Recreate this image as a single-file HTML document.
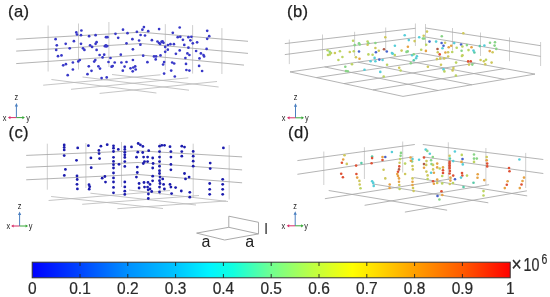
<!DOCTYPE html>
<html><head><meta charset="utf-8"><style>
html,body{margin:0;padding:0;background:#fff;}
body{width:550px;height:297px;overflow:hidden;}
svg{display:block;}
.pl{font-family:"Liberation Sans",Arial,sans-serif;font-size:16.6px;fill:#1e1e1e;letter-spacing:0.35px;stroke:#1e1e1e;stroke-width:0.25px;}
.tl{font-family:"Liberation Sans",Arial,sans-serif;font-size:9.5px;fill:#222;}
.sk{font-family:"Liberation Sans",Arial,sans-serif;font-size:16px;fill:#222;}
.cl{font-family:"Liberation Sans",Arial,sans-serif;font-size:15.5px;fill:#2a2a2a;stroke:#2a2a2a;stroke-width:0.2px;}
.cs{font-family:"Liberation Sans",Arial,sans-serif;font-size:11px;fill:#2a2a2a;stroke:#2a2a2a;stroke-width:0.15px;}
</style></head><body>
<svg width="550" height="297" viewBox="0 0 550 297">
<rect width="550" height="297" fill="#fff"/>
<defs><linearGradient id="cb" x1="0" x2="1" y1="0" y2="0"><stop offset="0" stop-color="#0000ff"/><stop offset="0.1" stop-color="#0044ff"/><stop offset="0.2" stop-color="#0090ff"/><stop offset="0.3" stop-color="#00c4ff"/><stop offset="0.37" stop-color="#00f4ff"/><stop offset="0.42" stop-color="#10ffe0"/><stop offset="0.5" stop-color="#70ff90"/><stop offset="0.58" stop-color="#b8ff48"/><stop offset="0.62" stop-color="#d8ff28"/><stop offset="0.67" stop-color="#ffff00"/><stop offset="0.72" stop-color="#ffdc00"/><stop offset="0.8" stop-color="#ffa000"/><stop offset="0.9" stop-color="#ff5a00"/><stop offset="1.0" stop-color="#ff0000"/></linearGradient></defs>
<g fill="none" stroke="#c6c6c6" stroke-width="0.85">
<polyline points="48.1,25.5 48.1,71.5"/>
<polyline points="78.5,23.5 78.5,69.5"/>
<polyline points="108.9,22.0 108.9,67.0"/>
<polyline points="165.3,24.2 165.3,70.0"/>
<polyline points="192.6,25.1 192.6,73.6"/>
<polyline points="221.9,28.1 221.9,74.0"/>
<polyline points="289.3,39.5 289.3,64.1"/>
<polyline points="322.5,34.5 322.5,59.5"/>
<polyline points="354.6,31.8 354.6,56.0"/>
<polyline points="385.7,27.5 385.7,51.4"/>
<polyline points="415.4,23.5 415.4,46.0"/>
<polyline points="425.5,24.0 425.5,46.4"/>
<polyline points="452.5,28.0 452.5,50.5"/>
<polyline points="480.5,32.5 480.5,56.0"/>
<polyline points="509.5,37.4 509.5,61.2"/>
<polyline points="540.6,42.0 540.6,66.0"/>
<polyline points="47.3,143.7 47.3,189.7"/>
<polyline points="85.9,143.0 85.9,188.0"/>
<polyline points="121.5,142.0 121.5,187.0"/>
<polyline points="160.0,143.0 160.0,195.0"/>
<polyline points="193.2,143.7 193.2,198.0"/>
<polyline points="229.2,145.0 229.2,199.5"/>
<polyline points="323.8,151.5 323.8,185.0"/>
<polyline points="364.4,147.2 364.4,179.0"/>
<polyline points="402.7,141.5 402.7,172.5"/>
<polyline points="448.3,142.3 448.3,180.0"/>
<polyline points="485.9,148.0 485.9,185.0"/>
<polyline points="525.7,152.9 525.7,188.0"/>
</g>
<g fill="none" stroke="#a6a6a6" stroke-width="0.85">
<polyline points="16.2,39.2 141.0,32.2 248.0,41.3"/>
<polyline points="16.2,51.1 141.0,43.5 248.0,53.4"/>
<polyline points="16.2,63.6 141.0,55.0 244.0,65.1"/>
<polyline points="284.8,43.6 415.4,28.3"/>
<polyline points="284.8,54.6 415.4,37.5"/>
<polyline points="425.5,28.0 540.7,45.7"/>
<polyline points="425.5,37.0 540.7,56.4"/>
<polyline points="26.2,155.4 138.0,150.8 242.1,156.9"/>
<polyline points="26.2,167.3 138.0,162.5 242.1,169.9"/>
<polyline points="26.2,179.8 138.0,174.5 242.1,182.8"/>
<polyline points="297.4,160.6 414.8,144.5"/>
<polyline points="297.4,174.3 413.4,156.8"/>
<polyline points="422.8,144.5 543.3,159.5"/>
<polyline points="422.8,156.8 543.3,173.5"/>
<polyline points="290.0,71.9 403.0,96.4"/>
<polyline points="324.6,66.9 438.2,90.5"/>
<polyline points="357.8,62.2 471.9,84.8"/>
<polyline points="389.7,57.6 504.1,79.3"/>
<polyline points="420.4,53.2 535.0,74.1"/>
<polyline points="290.0,71.9 420.4,53.2"/>
<polyline points="316.4,77.6 447.4,58.1"/>
<polyline points="344.0,83.6 475.4,63.2"/>
<polyline points="372.9,89.9 504.6,68.6"/>
<polyline points="403.0,96.4 535.0,74.1"/>
<polyline points="328.7,190.5 447.1,210.2"/>
<polyline points="372.4,183.9 488.3,202.8"/>
<polyline points="413.7,177.6 527.2,195.9"/>
<polyline points="324.9,198.7 451.7,178.7"/>
<polyline points="364.6,205.3 489.1,184.7"/>
<polyline points="404.9,212.1 526.9,190.8"/>
</g>
<g fill="none" stroke="#b8b8b8" stroke-width="0.8">
<polyline points="43.2,85.2 160.5,74.8"/>
<polyline points="71.0,89.3 188.3,77.8"/>
<polyline points="99.6,93.4 217.0,81.5"/>
<polyline points="51.4,79.5 156.4,93.0"/>
<polyline points="82.5,77.0 189.0,90.2"/>
<polyline points="112.0,74.5 218.6,87.0"/>
<polyline points="48.6,200.5 170.0,190.5"/>
<polyline points="82.2,204.3 199.0,195.5"/>
<polyline points="117.4,208.7 226.0,201.0"/>
<polyline points="51.1,196.5 163.0,208.5"/>
<polyline points="90.4,193.2 196.0,205.0"/>
<polyline points="129.0,190.0 228.0,201.5"/>
</g>
<g fill="#3838c8">
<circle cx="174.8" cy="76.5" r="1.35"/>
<circle cx="104.9" cy="46.2" r="1.35"/>
<circle cx="106.3" cy="46.4" r="1.35"/>
<circle cx="107.3" cy="46.0" r="1.35"/>
<circle cx="105.9" cy="45.3" r="1.35"/>
<circle cx="106.0" cy="37.2" r="1.35"/>
<circle cx="107.4" cy="37.2" r="1.35"/>
<circle cx="76.3" cy="32.4" r="1.35"/>
<circle cx="77.0" cy="34.5" r="1.35"/>
<circle cx="94.2" cy="61.6" r="1.35"/>
<circle cx="95.3" cy="60.1" r="1.35"/>
<circle cx="78.3" cy="61.4" r="1.35"/>
<circle cx="79.8" cy="60.0" r="1.35"/>
<circle cx="160.1" cy="44.0" r="1.35"/>
<circle cx="161.5" cy="41.9" r="1.35"/>
<circle cx="163.5" cy="42.8" r="1.35"/>
<circle cx="159.0" cy="43.0" r="1.35"/>
<circle cx="55.6" cy="39.2" r="1.35"/>
<circle cx="56.8" cy="45.3" r="1.35"/>
<circle cx="56.2" cy="49.9" r="1.35"/>
<circle cx="58.0" cy="56.2" r="1.35"/>
<circle cx="61.5" cy="55.4" r="1.35"/>
<circle cx="63.2" cy="65.3" r="1.35"/>
<circle cx="65.9" cy="64.2" r="1.35"/>
<circle cx="67.7" cy="75.2" r="1.35"/>
<circle cx="65.7" cy="43.8" r="1.35"/>
<circle cx="69.7" cy="48.3" r="1.35"/>
<circle cx="73.9" cy="41.2" r="1.35"/>
<circle cx="72.9" cy="62.5" r="1.35"/>
<circle cx="72.9" cy="69.5" r="1.35"/>
<circle cx="81.4" cy="30.5" r="1.35"/>
<circle cx="81.0" cy="35.2" r="1.35"/>
<circle cx="81.0" cy="43.8" r="1.35"/>
<circle cx="83.0" cy="48.3" r="1.35"/>
<circle cx="84.4" cy="49.9" r="1.35"/>
<circle cx="89.1" cy="36.2" r="1.35"/>
<circle cx="90.1" cy="45.3" r="1.35"/>
<circle cx="92.1" cy="46.9" r="1.35"/>
<circle cx="95.6" cy="43.8" r="1.35"/>
<circle cx="96.6" cy="42.2" r="1.35"/>
<circle cx="96.6" cy="49.9" r="1.35"/>
<circle cx="95.6" cy="35.2" r="1.35"/>
<circle cx="99.6" cy="55.0" r="1.35"/>
<circle cx="102.6" cy="57.4" r="1.35"/>
<circle cx="104.2" cy="54.7" r="1.35"/>
<circle cx="88.8" cy="66.3" r="1.35"/>
<circle cx="91.5" cy="70.8" r="1.35"/>
<circle cx="98.4" cy="66.3" r="1.35"/>
<circle cx="100.0" cy="68.6" r="1.35"/>
<circle cx="87.5" cy="74.2" r="1.35"/>
<circle cx="101.6" cy="78.1" r="1.35"/>
<circle cx="106.7" cy="77.4" r="1.35"/>
<circle cx="110.5" cy="58.0" r="1.35"/>
<circle cx="108.5" cy="62.0" r="1.35"/>
<circle cx="111.6" cy="66.7" r="1.35"/>
<circle cx="112.7" cy="66.1" r="1.35"/>
<circle cx="114.7" cy="62.5" r="1.35"/>
<circle cx="115.5" cy="33.8" r="1.35"/>
<circle cx="118.2" cy="37.8" r="1.35"/>
<circle cx="123.0" cy="29.7" r="1.35"/>
<circle cx="127.5" cy="33.2" r="1.35"/>
<circle cx="126.5" cy="43.3" r="1.35"/>
<circle cx="132.4" cy="39.2" r="1.35"/>
<circle cx="132.9" cy="49.3" r="1.35"/>
<circle cx="120.8" cy="54.7" r="1.35"/>
<circle cx="121.4" cy="62.5" r="1.35"/>
<circle cx="126.5" cy="62.0" r="1.35"/>
<circle cx="122.8" cy="70.7" r="1.35"/>
<circle cx="124.6" cy="66.6" r="1.35"/>
<circle cx="130.5" cy="68.3" r="1.35"/>
<circle cx="133.3" cy="67.5" r="1.35"/>
<circle cx="132.7" cy="71.3" r="1.35"/>
<circle cx="135.2" cy="66.4" r="1.35"/>
<circle cx="135.7" cy="69.5" r="1.35"/>
<circle cx="136.9" cy="31.8" r="1.35"/>
<circle cx="139.1" cy="40.5" r="1.35"/>
<circle cx="140.6" cy="35.0" r="1.35"/>
<circle cx="140.4" cy="44.7" r="1.35"/>
<circle cx="142.4" cy="29.7" r="1.35"/>
<circle cx="143.9" cy="27.1" r="1.35"/>
<circle cx="145.0" cy="35.5" r="1.35"/>
<circle cx="143.2" cy="55.7" r="1.35"/>
<circle cx="147.4" cy="62.2" r="1.35"/>
<circle cx="148.2" cy="31.2" r="1.35"/>
<circle cx="151.9" cy="40.2" r="1.35"/>
<circle cx="157.5" cy="41.5" r="1.35"/>
<circle cx="159.1" cy="29.1" r="1.35"/>
<circle cx="167.9" cy="45.0" r="1.35"/>
<circle cx="170.4" cy="44.2" r="1.35"/>
<circle cx="173.9" cy="44.2" r="1.35"/>
<circle cx="172.8" cy="32.8" r="1.35"/>
<circle cx="179.7" cy="27.5" r="1.35"/>
<circle cx="207.2" cy="30.8" r="1.35"/>
<circle cx="209.2" cy="36.2" r="1.35"/>
<circle cx="207.2" cy="38.8" r="1.35"/>
<circle cx="177.7" cy="37.2" r="1.35"/>
<circle cx="180.3" cy="36.8" r="1.35"/>
<circle cx="188.4" cy="37.2" r="1.35"/>
<circle cx="191.4" cy="36.8" r="1.35"/>
<circle cx="190.4" cy="40.3" r="1.35"/>
<circle cx="182.9" cy="39.8" r="1.35"/>
<circle cx="197.1" cy="42.3" r="1.35"/>
<circle cx="192.8" cy="43.3" r="1.35"/>
<circle cx="162.5" cy="41.3" r="1.35"/>
<circle cx="165.2" cy="46.9" r="1.35"/>
<circle cx="184.3" cy="44.9" r="1.35"/>
<circle cx="188.4" cy="47.7" r="1.35"/>
<circle cx="167.8" cy="49.7" r="1.35"/>
<circle cx="165.2" cy="51.8" r="1.35"/>
<circle cx="179.7" cy="50.4" r="1.35"/>
<circle cx="175.9" cy="53.8" r="1.35"/>
<circle cx="187.4" cy="53.4" r="1.35"/>
<circle cx="189.4" cy="55.0" r="1.35"/>
<circle cx="196.1" cy="51.0" r="1.35"/>
<circle cx="200.9" cy="53.4" r="1.35"/>
<circle cx="203.5" cy="55.0" r="1.35"/>
<circle cx="204.1" cy="56.4" r="1.35"/>
<circle cx="206.6" cy="48.9" r="1.35"/>
<circle cx="199.5" cy="58.4" r="1.35"/>
<circle cx="185.4" cy="58.0" r="1.35"/>
<circle cx="160.5" cy="55.4" r="1.35"/>
<circle cx="156.1" cy="56.4" r="1.35"/>
<circle cx="154.0" cy="56.4" r="1.35"/>
<circle cx="155.7" cy="59.4" r="1.35"/>
<circle cx="164.1" cy="62.1" r="1.35"/>
<circle cx="163.1" cy="64.5" r="1.35"/>
<circle cx="172.2" cy="62.5" r="1.35"/>
<circle cx="174.2" cy="63.5" r="1.35"/>
<circle cx="186.0" cy="63.9" r="1.35"/>
<circle cx="199.1" cy="65.9" r="1.35"/>
<circle cx="186.4" cy="70.0" r="1.35"/>
<circle cx="189.4" cy="70.6" r="1.35"/>
<circle cx="202.1" cy="71.0" r="1.35"/>
<circle cx="171.2" cy="70.6" r="1.35"/>
<circle cx="164.1" cy="73.6" r="1.35"/>
<circle cx="132.9" cy="60.0" r="1.35"/>
</g>
<g fill="#1c1cae">
<circle cx="64.2" cy="144.9" r="1.4"/>
<circle cx="64.2" cy="147.4" r="1.4"/>
<circle cx="64.2" cy="149.9" r="1.4"/>
<circle cx="64.2" cy="155.6" r="1.4"/>
<circle cx="77.7" cy="147.9" r="1.4"/>
<circle cx="76.5" cy="160.3" r="1.4"/>
<circle cx="65.4" cy="169.4" r="1.4"/>
<circle cx="64.3" cy="175.4" r="1.4"/>
<circle cx="77.0" cy="176.0" r="1.4"/>
<circle cx="77.2" cy="179.5" r="1.4"/>
<circle cx="77.0" cy="184.3" r="1.4"/>
<circle cx="77.4" cy="188.9" r="1.4"/>
<circle cx="88.4" cy="145.7" r="1.4"/>
<circle cx="90.9" cy="157.9" r="1.4"/>
<circle cx="91.2" cy="167.7" r="1.4"/>
<circle cx="89.0" cy="184.7" r="1.4"/>
<circle cx="89.7" cy="186.7" r="1.4"/>
<circle cx="89.2" cy="189.2" r="1.4"/>
<circle cx="100.9" cy="146.2" r="1.4"/>
<circle cx="98.9" cy="150.4" r="1.4"/>
<circle cx="99.1" cy="153.6" r="1.4"/>
<circle cx="99.6" cy="158.6" r="1.4"/>
<circle cx="102.2" cy="178.2" r="1.4"/>
<circle cx="104.9" cy="176.5" r="1.4"/>
<circle cx="105.5" cy="182.1" r="1.4"/>
<circle cx="107.2" cy="144.7" r="1.4"/>
<circle cx="113.5" cy="145.8" r="1.4"/>
<circle cx="113.5" cy="148.2" r="1.4"/>
<circle cx="113.5" cy="151.5" r="1.4"/>
<circle cx="113.5" cy="157.3" r="1.4"/>
<circle cx="113.5" cy="161.4" r="1.4"/>
<circle cx="113.5" cy="164.7" r="1.4"/>
<circle cx="113.5" cy="168.0" r="1.4"/>
<circle cx="113.5" cy="173.0" r="1.4"/>
<circle cx="113.5" cy="177.9" r="1.4"/>
<circle cx="113.5" cy="182.0" r="1.4"/>
<circle cx="113.5" cy="187.4" r="1.4"/>
<circle cx="113.5" cy="192.8" r="1.4"/>
<circle cx="118.3" cy="149.4" r="1.4"/>
<circle cx="119.0" cy="164.3" r="1.4"/>
<circle cx="124.8" cy="146.9" r="1.4"/>
<circle cx="124.8" cy="149.4" r="1.4"/>
<circle cx="124.8" cy="152.3" r="1.4"/>
<circle cx="124.8" cy="154.8" r="1.4"/>
<circle cx="124.8" cy="157.4" r="1.4"/>
<circle cx="124.8" cy="161.6" r="1.4"/>
<circle cx="124.8" cy="166.4" r="1.4"/>
<circle cx="124.8" cy="182.0" r="1.4"/>
<circle cx="124.8" cy="186.9" r="1.4"/>
<circle cx="124.8" cy="191.2" r="1.4"/>
<circle cx="124.8" cy="194.4" r="1.4"/>
<circle cx="131.5" cy="146.9" r="1.4"/>
<circle cx="136.5" cy="157.2" r="1.4"/>
<circle cx="138.2" cy="143.5" r="1.4"/>
<circle cx="140.4" cy="144.9" r="1.4"/>
<circle cx="142.9" cy="146.4" r="1.4"/>
<circle cx="137.8" cy="152.2" r="1.4"/>
<circle cx="137.3" cy="167.1" r="1.4"/>
<circle cx="137.3" cy="172.5" r="1.4"/>
<circle cx="136.4" cy="177.1" r="1.4"/>
<circle cx="142.7" cy="152.5" r="1.4"/>
<circle cx="143.6" cy="157.1" r="1.4"/>
<circle cx="144.5" cy="161.6" r="1.4"/>
<circle cx="143.3" cy="163.5" r="1.4"/>
<circle cx="148.7" cy="150.7" r="1.4"/>
<circle cx="147.6" cy="157.1" r="1.4"/>
<circle cx="147.6" cy="161.6" r="1.4"/>
<circle cx="152.7" cy="158.0" r="1.4"/>
<circle cx="153.1" cy="163.5" r="1.4"/>
<circle cx="152.7" cy="168.0" r="1.4"/>
<circle cx="152.7" cy="176.2" r="1.4"/>
<circle cx="152.6" cy="180.8" r="1.4"/>
<circle cx="139.1" cy="183.5" r="1.4"/>
<circle cx="144.0" cy="182.5" r="1.4"/>
<circle cx="144.5" cy="187.1" r="1.4"/>
<circle cx="147.6" cy="187.1" r="1.4"/>
<circle cx="148.2" cy="189.8" r="1.4"/>
<circle cx="150.0" cy="188.9" r="1.4"/>
<circle cx="139.1" cy="188.0" r="1.4"/>
<circle cx="159.5" cy="146.2" r="1.4"/>
<circle cx="161.8" cy="145.3" r="1.4"/>
<circle cx="164.5" cy="145.3" r="1.4"/>
<circle cx="159.5" cy="151.6" r="1.4"/>
<circle cx="159.5" cy="157.1" r="1.4"/>
<circle cx="159.5" cy="161.6" r="1.4"/>
<circle cx="159.5" cy="166.2" r="1.4"/>
<circle cx="159.5" cy="170.7" r="1.4"/>
<circle cx="159.5" cy="173.5" r="1.4"/>
<circle cx="160.0" cy="177.1" r="1.4"/>
<circle cx="159.5" cy="180.7" r="1.4"/>
<circle cx="160.0" cy="183.5" r="1.4"/>
<circle cx="159.5" cy="187.1" r="1.4"/>
<circle cx="159.5" cy="192.0" r="1.4"/>
<circle cx="162.7" cy="178.9" r="1.4"/>
<circle cx="163.6" cy="184.4" r="1.4"/>
<circle cx="170.0" cy="146.7" r="1.4"/>
<circle cx="170.9" cy="151.6" r="1.4"/>
<circle cx="170.9" cy="157.1" r="1.4"/>
<circle cx="170.9" cy="164.4" r="1.4"/>
<circle cx="170.9" cy="169.8" r="1.4"/>
<circle cx="170.0" cy="184.4" r="1.4"/>
<circle cx="170.9" cy="187.1" r="1.4"/>
<circle cx="171.6" cy="193.6" r="1.4"/>
<circle cx="181.8" cy="146.2" r="1.4"/>
<circle cx="184.5" cy="147.1" r="1.4"/>
<circle cx="181.8" cy="151.6" r="1.4"/>
<circle cx="181.8" cy="156.2" r="1.4"/>
<circle cx="184.5" cy="173.5" r="1.4"/>
<circle cx="189.1" cy="177.1" r="1.4"/>
<circle cx="185.5" cy="178.9" r="1.4"/>
<circle cx="181.3" cy="191.0" r="1.4"/>
<circle cx="193.2" cy="151.4" r="1.4"/>
<circle cx="193.2" cy="156.2" r="1.4"/>
<circle cx="193.2" cy="161.2" r="1.4"/>
<circle cx="193.2" cy="166.2" r="1.4"/>
<circle cx="189.8" cy="192.3" r="1.4"/>
<circle cx="189.8" cy="197.2" r="1.4"/>
<circle cx="223.4" cy="147.9" r="1.4"/>
<circle cx="210.2" cy="163.1" r="1.4"/>
<circle cx="210.2" cy="168.6" r="1.4"/>
<circle cx="209.7" cy="183.5" r="1.4"/>
<circle cx="209.7" cy="189.3" r="1.4"/>
<circle cx="209.7" cy="194.3" r="1.4"/>
<circle cx="222.7" cy="179.3" r="1.4"/>
<circle cx="222.7" cy="184.3" r="1.4"/>
<circle cx="222.7" cy="189.3" r="1.4"/>
<circle cx="222.7" cy="194.3" r="1.4"/>
<circle cx="148.0" cy="182.4" r="1.4"/>
<circle cx="150.0" cy="184.4" r="1.4"/>
<circle cx="151.7" cy="191.5" r="1.4"/>
<circle cx="148.4" cy="194.0" r="1.4"/>
<circle cx="148.3" cy="198.5" r="1.4"/>
<circle cx="164.4" cy="189.0" r="1.4"/>
<circle cx="175.6" cy="187.6" r="1.4"/>
</g>
<g>
<circle cx="327.6" cy="50.3" r="1.3" fill="#bcd462"/>
<circle cx="329.7" cy="51.7" r="1.3" fill="#88d486"/>
<circle cx="331.0" cy="53.0" r="1.3" fill="#bcd462"/>
<circle cx="328.0" cy="55.0" r="1.3" fill="#bcd462"/>
<circle cx="334.9" cy="53.0" r="1.3" fill="#cec85c"/>
<circle cx="339.9" cy="51.2" r="1.3" fill="#bcd462"/>
<circle cx="342.4" cy="57.0" r="1.3" fill="#bcd462"/>
<circle cx="338.4" cy="60.0" r="1.3" fill="#bcd462"/>
<circle cx="349.8" cy="52.0" r="1.3" fill="#cec85c"/>
<circle cx="353.8" cy="51.2" r="1.3" fill="#bcd462"/>
<circle cx="353.1" cy="40.7" r="1.3" fill="#bcd462"/>
<circle cx="354.7" cy="45.1" r="1.3" fill="#88d486"/>
<circle cx="359.0" cy="43.2" r="1.3" fill="#88d486"/>
<circle cx="359.7" cy="44.5" r="1.3" fill="#88d486"/>
<circle cx="359.0" cy="51.5" r="1.3" fill="#4862cc"/>
<circle cx="355.9" cy="57.3" r="1.3" fill="#cec85c"/>
<circle cx="359.5" cy="58.8" r="1.3" fill="#e6a244"/>
<circle cx="367.6" cy="41.5" r="1.3" fill="#bcd462"/>
<circle cx="368.4" cy="43.2" r="1.3" fill="#88d486"/>
<circle cx="367.6" cy="44.8" r="1.3" fill="#cec85c"/>
<circle cx="375.4" cy="43.0" r="1.3" fill="#88d486"/>
<circle cx="375.4" cy="48.0" r="1.3" fill="#cec85c"/>
<circle cx="375.9" cy="52.2" r="1.3" fill="#4862cc"/>
<circle cx="378.8" cy="50.8" r="1.3" fill="#cec85c"/>
<circle cx="384.0" cy="49.3" r="1.3" fill="#b05a48"/>
<circle cx="368.4" cy="54.4" r="1.3" fill="#bcd462"/>
<circle cx="372.6" cy="54.7" r="1.3" fill="#bcd462"/>
<circle cx="370.6" cy="61.3" r="1.3" fill="#56cdd8"/>
<circle cx="375.4" cy="61.3" r="1.3" fill="#56cdd8"/>
<circle cx="379.3" cy="59.6" r="1.3" fill="#4862cc"/>
<circle cx="382.6" cy="60.0" r="1.3" fill="#56cdd8"/>
<circle cx="385.3" cy="37.3" r="1.3" fill="#cec85c"/>
<circle cx="345.3" cy="66.7" r="1.3" fill="#88d486"/>
<circle cx="352.0" cy="64.2" r="1.3" fill="#bcd462"/>
<circle cx="347.8" cy="71.2" r="1.3" fill="#88d486"/>
<circle cx="364.5" cy="69.8" r="1.3" fill="#56cdd8"/>
<circle cx="380.3" cy="71.9" r="1.3" fill="#56cdd8"/>
<circle cx="404.7" cy="35.2" r="1.3" fill="#56cdd8"/>
<circle cx="408.8" cy="40.1" r="1.3" fill="#56cdd8"/>
<circle cx="394.9" cy="45.7" r="1.3" fill="#56cdd8"/>
<circle cx="407.9" cy="46.8" r="1.3" fill="#e6a244"/>
<circle cx="414.6" cy="41.1" r="1.3" fill="#cec85c"/>
<circle cx="419.2" cy="37.3" r="1.3" fill="#56cdd8"/>
<circle cx="422.9" cy="38.5" r="1.3" fill="#88d486"/>
<circle cx="424.2" cy="38.5" r="1.3" fill="#88d486"/>
<circle cx="423.7" cy="35.7" r="1.3" fill="#cec85c"/>
<circle cx="427.0" cy="31.6" r="1.3" fill="#cec85c"/>
<circle cx="426.2" cy="44.8" r="1.3" fill="#bcd462"/>
<circle cx="429.5" cy="41.6" r="1.3" fill="#4862cc"/>
<circle cx="436.1" cy="41.6" r="1.3" fill="#56cdd8"/>
<circle cx="441.8" cy="36.2" r="1.3" fill="#88d486"/>
<circle cx="441.6" cy="43.0" r="1.3" fill="#4862cc"/>
<circle cx="443.5" cy="45.7" r="1.3" fill="#4862cc"/>
<circle cx="442.5" cy="48.3" r="1.3" fill="#56cdd8"/>
<circle cx="445.1" cy="42.8" r="1.3" fill="#cec85c"/>
<circle cx="437.5" cy="49.0" r="1.3" fill="#b05a48"/>
<circle cx="437.8" cy="52.3" r="1.3" fill="#cec85c"/>
<circle cx="439.7" cy="54.4" r="1.3" fill="#de5034"/>
<circle cx="445.4" cy="52.5" r="1.3" fill="#e6a244"/>
<circle cx="448.7" cy="47.3" r="1.3" fill="#e6a244"/>
<circle cx="451.2" cy="45.7" r="1.3" fill="#e6a244"/>
<circle cx="454.2" cy="43.1" r="1.3" fill="#56cdd8"/>
<circle cx="456.7" cy="47.7" r="1.3" fill="#bcd462"/>
<circle cx="461.1" cy="44.5" r="1.3" fill="#4862cc"/>
<circle cx="461.6" cy="50.8" r="1.3" fill="#88d486"/>
<circle cx="463.3" cy="33.2" r="1.3" fill="#cec85c"/>
<circle cx="448.1" cy="52.3" r="1.3" fill="#cec85c"/>
<circle cx="448.2" cy="56.5" r="1.3" fill="#cec85c"/>
<circle cx="452.2" cy="52.0" r="1.3" fill="#bcd462"/>
<circle cx="462.5" cy="55.2" r="1.3" fill="#cec85c"/>
<circle cx="421.2" cy="49.8" r="1.3" fill="#bcd462"/>
<circle cx="425.9" cy="50.9" r="1.3" fill="#e6a244"/>
<circle cx="401.6" cy="50.6" r="1.3" fill="#cec85c"/>
<circle cx="406.5" cy="51.9" r="1.3" fill="#88d486"/>
<circle cx="407.7" cy="51.4" r="1.3" fill="#88d486"/>
<circle cx="412.1" cy="55.2" r="1.3" fill="#56cdd8"/>
<circle cx="413.8" cy="54.3" r="1.3" fill="#88d486"/>
<circle cx="416.9" cy="56.2" r="1.3" fill="#56cdd8"/>
<circle cx="416.1" cy="58.2" r="1.3" fill="#56cdd8"/>
<circle cx="413.8" cy="60.2" r="1.3" fill="#58caa8"/>
<circle cx="410.8" cy="63.2" r="1.3" fill="#88d486"/>
<circle cx="387.1" cy="64.7" r="1.3" fill="#bcd462"/>
<circle cx="399.2" cy="67.8" r="1.3" fill="#cec85c"/>
<circle cx="386.8" cy="51.5" r="1.3" fill="#4862cc"/>
<circle cx="391.9" cy="53.1" r="1.3" fill="#56cdd8"/>
<circle cx="392.8" cy="53.8" r="1.3" fill="#56cdd8"/>
<circle cx="394.8" cy="55.0" r="1.3" fill="#bcd462"/>
<circle cx="436.9" cy="59.1" r="1.3" fill="#cec85c"/>
<circle cx="440.2" cy="58.4" r="1.3" fill="#cec85c"/>
<circle cx="444.2" cy="58.4" r="1.3" fill="#cec85c"/>
<circle cx="456.1" cy="62.6" r="1.3" fill="#bcd462"/>
<circle cx="441.0" cy="64.8" r="1.3" fill="#cec85c"/>
<circle cx="427.9" cy="66.7" r="1.3" fill="#cec85c"/>
<circle cx="462.4" cy="46.5" r="1.3" fill="#bcd462"/>
<circle cx="466.9" cy="45.1" r="1.3" fill="#88d486"/>
<circle cx="468.5" cy="50.1" r="1.3" fill="#bcd462"/>
<circle cx="471.5" cy="47.3" r="1.3" fill="#e6a244"/>
<circle cx="473.5" cy="50.6" r="1.3" fill="#56cdd8"/>
<circle cx="474.4" cy="52.5" r="1.3" fill="#58caa8"/>
<circle cx="461.9" cy="56.0" r="1.3" fill="#bcd462"/>
<circle cx="479.8" cy="46.1" r="1.3" fill="#58caa8"/>
<circle cx="484.4" cy="45.6" r="1.3" fill="#56cdd8"/>
<circle cx="490.0" cy="42.8" r="1.3" fill="#88d486"/>
<circle cx="495.0" cy="42.3" r="1.3" fill="#88d486"/>
<circle cx="494.6" cy="45.6" r="1.3" fill="#88d486"/>
<circle cx="496.3" cy="48.9" r="1.3" fill="#88d486"/>
<circle cx="489.7" cy="51.1" r="1.3" fill="#e6a244"/>
<circle cx="492.6" cy="52.2" r="1.3" fill="#cec85c"/>
<circle cx="480.6" cy="60.0" r="1.3" fill="#cec85c"/>
<circle cx="483.9" cy="61.3" r="1.3" fill="#cec85c"/>
<circle cx="486.0" cy="59.7" r="1.3" fill="#bcd462"/>
<circle cx="485.2" cy="64.3" r="1.3" fill="#cec85c"/>
<circle cx="491.6" cy="62.6" r="1.3" fill="#cec85c"/>
<circle cx="468.1" cy="61.4" r="1.3" fill="#de5034"/>
<circle cx="470.7" cy="61.3" r="1.3" fill="#de5034"/>
<circle cx="469.0" cy="64.6" r="1.3" fill="#cec85c"/>
<circle cx="472.3" cy="64.6" r="1.3" fill="#88d486"/>
<circle cx="443.5" cy="69.4" r="1.3" fill="#56cdd8"/>
<circle cx="444.4" cy="71.4" r="1.3" fill="#bcd462"/>
<circle cx="452.6" cy="70.5" r="1.3" fill="#cec85c"/>
<circle cx="453.4" cy="68.1" r="1.3" fill="#cec85c"/>
<circle cx="455.9" cy="75.5" r="1.3" fill="#bcd462"/>
<circle cx="400.6" cy="70.5" r="1.3" fill="#bcd462"/>
<circle cx="383.7" cy="76.5" r="1.3" fill="#bcd462"/>
<circle cx="329.8" cy="54.4" r="1.3" fill="#bcd462"/>
<circle cx="346.0" cy="71.1" r="1.3" fill="#88d486"/>
<circle cx="374.6" cy="57.9" r="1.3" fill="#56cdd8"/>
<circle cx="344.5" cy="155.3" r="1.3" fill="#cec85c"/>
<circle cx="343.2" cy="159.5" r="1.3" fill="#e6a244"/>
<circle cx="341.9" cy="162.8" r="1.3" fill="#de5034"/>
<circle cx="346.8" cy="163.9" r="1.3" fill="#cec85c"/>
<circle cx="356.1" cy="165.6" r="1.3" fill="#de5034"/>
<circle cx="361.4" cy="163.1" r="1.3" fill="#58caa8"/>
<circle cx="341.2" cy="173.8" r="1.3" fill="#de5034"/>
<circle cx="342.9" cy="177.3" r="1.3" fill="#de5034"/>
<circle cx="356.4" cy="174.0" r="1.3" fill="#de5034"/>
<circle cx="357.2" cy="177.6" r="1.3" fill="#e6a244"/>
<circle cx="359.4" cy="180.9" r="1.3" fill="#cec85c"/>
<circle cx="359.7" cy="184.5" r="1.3" fill="#cec85c"/>
<circle cx="372.1" cy="156.5" r="1.3" fill="#58caa8"/>
<circle cx="372.1" cy="158.1" r="1.3" fill="#de5034"/>
<circle cx="371.6" cy="163.2" r="1.3" fill="#de5034"/>
<circle cx="372.1" cy="181.2" r="1.3" fill="#56cdd8"/>
<circle cx="373.2" cy="182.9" r="1.3" fill="#56cdd8"/>
<circle cx="373.7" cy="185.9" r="1.3" fill="#56cdd8"/>
<circle cx="382.5" cy="157.0" r="1.3" fill="#e6a244"/>
<circle cx="385.3" cy="157.0" r="1.3" fill="#4862cc"/>
<circle cx="382.5" cy="160.0" r="1.3" fill="#de5034"/>
<circle cx="391.9" cy="152.0" r="1.3" fill="#56cdd8"/>
<circle cx="383.6" cy="169.8" r="1.3" fill="#cec85c"/>
<circle cx="385.3" cy="178.4" r="1.3" fill="#cec85c"/>
<circle cx="389.7" cy="184.5" r="1.3" fill="#e6a244"/>
<circle cx="401.0" cy="152.9" r="1.3" fill="#88d486"/>
<circle cx="400.6" cy="155.8" r="1.3" fill="#88d486"/>
<circle cx="400.1" cy="159.1" r="1.3" fill="#bcd462"/>
<circle cx="399.6" cy="162.8" r="1.3" fill="#cec85c"/>
<circle cx="399.3" cy="166.4" r="1.3" fill="#de5034"/>
<circle cx="399.0" cy="169.4" r="1.3" fill="#b05a48"/>
<circle cx="398.0" cy="171.8" r="1.3" fill="#de5034"/>
<circle cx="397.3" cy="174.0" r="1.3" fill="#e6a244"/>
<circle cx="398.0" cy="176.0" r="1.3" fill="#e6a244"/>
<circle cx="399.0" cy="178.4" r="1.3" fill="#e6a244"/>
<circle cx="399.0" cy="181.7" r="1.3" fill="#e6a244"/>
<circle cx="399.3" cy="185.0" r="1.3" fill="#cec85c"/>
<circle cx="405.1" cy="163.6" r="1.3" fill="#bcd462"/>
<circle cx="405.1" cy="174.0" r="1.3" fill="#cec85c"/>
<circle cx="410.5" cy="157.5" r="1.3" fill="#e6a244"/>
<circle cx="412.5" cy="159.1" r="1.3" fill="#56cdd8"/>
<circle cx="412.1" cy="161.5" r="1.3" fill="#88d486"/>
<circle cx="410.9" cy="160.8" r="1.3" fill="#e6a244"/>
<circle cx="412.5" cy="166.0" r="1.3" fill="#cec85c"/>
<circle cx="412.8" cy="169.4" r="1.3" fill="#cec85c"/>
<circle cx="412.5" cy="178.4" r="1.3" fill="#cec85c"/>
<circle cx="412.5" cy="181.7" r="1.3" fill="#e6a244"/>
<circle cx="412.5" cy="185.0" r="1.3" fill="#e6a244"/>
<circle cx="419.1" cy="159.8" r="1.3" fill="#56cdd8"/>
<circle cx="360.5" cy="188.2" r="1.3" fill="#bcd462"/>
<circle cx="389.6" cy="188.0" r="1.3" fill="#e6a244"/>
<circle cx="399.6" cy="189.0" r="1.3" fill="#bcd462"/>
<circle cx="413.0" cy="188.0" r="1.3" fill="#cec85c"/>
<circle cx="413.6" cy="191.0" r="1.3" fill="#cec85c"/>
<circle cx="426.4" cy="171.6" r="1.3" fill="#cec85c"/>
<circle cx="427.6" cy="175.4" r="1.3" fill="#cec85c"/>
<circle cx="427.6" cy="179.0" r="1.3" fill="#bcd462"/>
<circle cx="425.7" cy="149.6" r="1.3" fill="#56cdd8"/>
<circle cx="427.3" cy="150.9" r="1.3" fill="#88d486"/>
<circle cx="429.8" cy="153.7" r="1.3" fill="#56cdd8"/>
<circle cx="424.0" cy="157.5" r="1.3" fill="#de5034"/>
<circle cx="432.8" cy="157.0" r="1.3" fill="#88d486"/>
<circle cx="431.1" cy="160.3" r="1.3" fill="#88d486"/>
<circle cx="426.5" cy="161.1" r="1.3" fill="#cec85c"/>
<circle cx="424.0" cy="164.1" r="1.3" fill="#b05a48"/>
<circle cx="426.2" cy="164.9" r="1.3" fill="#cec85c"/>
<circle cx="431.5" cy="164.1" r="1.3" fill="#88d486"/>
<circle cx="433.1" cy="164.9" r="1.3" fill="#cec85c"/>
<circle cx="437.2" cy="163.6" r="1.3" fill="#e6a244"/>
<circle cx="437.2" cy="167.4" r="1.3" fill="#e6a244"/>
<circle cx="439.7" cy="168.5" r="1.3" fill="#bcd462"/>
<circle cx="433.1" cy="169.4" r="1.3" fill="#cec85c"/>
<circle cx="424.0" cy="167.7" r="1.3" fill="#e6a244"/>
<circle cx="431.1" cy="172.7" r="1.3" fill="#56cdd8"/>
<circle cx="433.9" cy="172.7" r="1.3" fill="#e6a244"/>
<circle cx="443.0" cy="167.4" r="1.3" fill="#e6a244"/>
<circle cx="443.0" cy="170.2" r="1.3" fill="#de5034"/>
<circle cx="443.0" cy="173.0" r="1.3" fill="#de5034"/>
<circle cx="442.2" cy="176.0" r="1.3" fill="#bcd462"/>
<circle cx="433.1" cy="181.2" r="1.3" fill="#de5034"/>
<circle cx="433.9" cy="183.8" r="1.3" fill="#e6a244"/>
<circle cx="437.2" cy="179.6" r="1.3" fill="#e6a244"/>
<circle cx="437.2" cy="182.9" r="1.3" fill="#cec85c"/>
<circle cx="442.2" cy="183.4" r="1.3" fill="#bcd462"/>
<circle cx="449.6" cy="155.8" r="1.3" fill="#cec85c"/>
<circle cx="449.9" cy="158.6" r="1.3" fill="#58caa8"/>
<circle cx="449.6" cy="161.9" r="1.3" fill="#de5034"/>
<circle cx="449.6" cy="163.6" r="1.3" fill="#de5034"/>
<circle cx="449.6" cy="165.2" r="1.3" fill="#de5034"/>
<circle cx="449.6" cy="166.9" r="1.3" fill="#de5034"/>
<circle cx="449.6" cy="168.5" r="1.3" fill="#de5034"/>
<circle cx="449.9" cy="171.0" r="1.3" fill="#de5034"/>
<circle cx="449.6" cy="173.5" r="1.3" fill="#de5034"/>
<circle cx="450.4" cy="177.6" r="1.3" fill="#e6a244"/>
<circle cx="450.4" cy="180.6" r="1.3" fill="#e6a244"/>
<circle cx="449.8" cy="184.0" r="1.3" fill="#cec85c"/>
<circle cx="453.2" cy="161.1" r="1.3" fill="#56cdd8"/>
<circle cx="453.2" cy="175.6" r="1.3" fill="#de5034"/>
<circle cx="455.0" cy="179.2" r="1.3" fill="#4862cc"/>
<circle cx="454.9" cy="151.5" r="1.3" fill="#56cdd8"/>
<circle cx="453.0" cy="183.0" r="1.3" fill="#bcd462"/>
<circle cx="461.8" cy="154.9" r="1.3" fill="#bcd462"/>
<circle cx="462.5" cy="159.1" r="1.3" fill="#4862cc"/>
<circle cx="461.5" cy="161.9" r="1.3" fill="#e6a244"/>
<circle cx="462.8" cy="164.4" r="1.3" fill="#56cdd8"/>
<circle cx="462.0" cy="173.0" r="1.3" fill="#de5034"/>
<circle cx="462.3" cy="175.5" r="1.3" fill="#de5034"/>
<circle cx="461.0" cy="177.6" r="1.3" fill="#56cdd8"/>
<circle cx="467.0" cy="175.6" r="1.3" fill="#bcd462"/>
<circle cx="474.0" cy="154.5" r="1.3" fill="#88d486"/>
<circle cx="474.0" cy="158.6" r="1.3" fill="#88d486"/>
<circle cx="476.8" cy="158.6" r="1.3" fill="#88d486"/>
<circle cx="474.0" cy="161.9" r="1.3" fill="#bcd462"/>
<circle cx="477.7" cy="174.3" r="1.3" fill="#e6a244"/>
<circle cx="477.5" cy="177.8" r="1.3" fill="#e6a244"/>
<circle cx="484.3" cy="180.1" r="1.3" fill="#e6a244"/>
<circle cx="473.5" cy="182.8" r="1.3" fill="#58caa8"/>
<circle cx="486.7" cy="157.0" r="1.3" fill="#cec85c"/>
<circle cx="486.7" cy="160.3" r="1.3" fill="#e6a244"/>
<circle cx="487.2" cy="163.6" r="1.3" fill="#de5034"/>
<circle cx="487.2" cy="166.4" r="1.3" fill="#de5034"/>
<circle cx="519.4" cy="159.5" r="1.3" fill="#56cdd8"/>
<circle cx="509.0" cy="168.0" r="1.3" fill="#de5034"/>
<circle cx="509.5" cy="171.3" r="1.3" fill="#de5034"/>
<circle cx="524.0" cy="177.6" r="1.3" fill="#e6a244"/>
<circle cx="522.5" cy="181.0" r="1.3" fill="#e6a244"/>
<circle cx="521.5" cy="184.5" r="1.3" fill="#de5034"/>
<circle cx="507.6" cy="181.3" r="1.3" fill="#e6a244"/>
<circle cx="506.8" cy="184.7" r="1.3" fill="#de5034"/>
<circle cx="504.8" cy="188.1" r="1.3" fill="#e6a244"/>
<circle cx="519.8" cy="188.1" r="1.3" fill="#e6a244"/>
<circle cx="437.5" cy="196.0" r="1.3" fill="#4862cc"/>
<circle cx="439.4" cy="199.5" r="1.3" fill="#88d486"/>
<circle cx="441.5" cy="191.2" r="1.3" fill="#de5034"/>
<circle cx="442.3" cy="195.0" r="1.3" fill="#e6a244"/>
<circle cx="483.5" cy="191.1" r="1.3" fill="#bcd462"/>
<circle cx="483.5" cy="195.5" r="1.3" fill="#bcd462"/>
<circle cx="463.5" cy="187.0" r="1.3" fill="#58caa8"/>
</g>
<line x1="16.4" y1="117.6" x2="16.4" y2="105.1" stroke="#4a7fc0" stroke-width="1"/>
<path d="M14.799999999999999,106.6 L16.4,103.1 L18.0,106.6 Z" fill="#4a7fc0"/>
<line x1="16.4" y1="117.6" x2="9.399999999999999" y2="117.6" stroke="#d8306a" stroke-width="1"/>
<path d="M10.399999999999999,116.0 L7.899999999999999,117.6 L10.399999999999999,119.19999999999999 Z" fill="#d8306a"/>
<line x1="16.4" y1="117.6" x2="23.4" y2="117.6" stroke="#3aa83a" stroke-width="1"/>
<path d="M22.4,116.0 L24.9,117.6 L22.4,119.19999999999999 Z" fill="#3aa83a"/>
<text transform="translate(16.4,100.1) scale(0.78,1)" text-anchor="middle" class="tl">z</text>
<text transform="translate(4.7,120.6) scale(0.78,1)" text-anchor="middle" class="tl">x</text>
<text transform="translate(28.0,120.6) scale(0.78,1)" text-anchor="middle" class="tl">y</text>
<line x1="295.5" y1="117.8" x2="295.5" y2="105.3" stroke="#4a7fc0" stroke-width="1"/>
<path d="M293.9,106.8 L295.5,103.3 L297.1,106.8 Z" fill="#4a7fc0"/>
<line x1="295.5" y1="117.8" x2="288.5" y2="117.8" stroke="#d8306a" stroke-width="1"/>
<path d="M289.5,116.2 L287.0,117.8 L289.5,119.39999999999999 Z" fill="#d8306a"/>
<line x1="295.5" y1="117.8" x2="302.5" y2="117.8" stroke="#3aa83a" stroke-width="1"/>
<path d="M301.5,116.2 L304.0,117.8 L301.5,119.39999999999999 Z" fill="#3aa83a"/>
<text transform="translate(295.5,100.1) scale(0.78,1)" text-anchor="middle" class="tl">z</text>
<text transform="translate(283.6,120.8) scale(0.78,1)" text-anchor="middle" class="tl">x</text>
<text transform="translate(306.8,120.8) scale(0.78,1)" text-anchor="middle" class="tl">y</text>
<line x1="19.6" y1="226.0" x2="19.6" y2="213.5" stroke="#4a7fc0" stroke-width="1"/>
<path d="M18.0,215.0 L19.6,211.5 L21.200000000000003,215.0 Z" fill="#4a7fc0"/>
<line x1="19.6" y1="226.0" x2="12.600000000000001" y2="226.0" stroke="#d8306a" stroke-width="1"/>
<path d="M13.600000000000001,224.4 L11.100000000000001,226.0 L13.600000000000001,227.6 Z" fill="#d8306a"/>
<line x1="19.6" y1="226.0" x2="26.6" y2="226.0" stroke="#3aa83a" stroke-width="1"/>
<path d="M25.6,224.4 L28.1,226.0 L25.6,227.6 Z" fill="#3aa83a"/>
<text transform="translate(19.6,209.2) scale(0.78,1)" text-anchor="middle" class="tl">z</text>
<text transform="translate(8.3,229.0) scale(0.78,1)" text-anchor="middle" class="tl">x</text>
<text transform="translate(30.7,229.0) scale(0.78,1)" text-anchor="middle" class="tl">y</text>
<line x1="295.2" y1="225.8" x2="295.2" y2="213.3" stroke="#4a7fc0" stroke-width="1"/>
<path d="M293.59999999999997,214.8 L295.2,211.3 L296.8,214.8 Z" fill="#4a7fc0"/>
<line x1="295.2" y1="225.8" x2="288.2" y2="225.8" stroke="#d8306a" stroke-width="1"/>
<path d="M289.2,224.20000000000002 L286.7,225.8 L289.2,227.4 Z" fill="#d8306a"/>
<line x1="295.2" y1="225.8" x2="302.2" y2="225.8" stroke="#3aa83a" stroke-width="1"/>
<path d="M301.2,224.20000000000002 L303.7,225.8 L301.2,227.4 Z" fill="#3aa83a"/>
<text transform="translate(295.2,209.2) scale(0.78,1)" text-anchor="middle" class="tl">z</text>
<text transform="translate(283.4,228.8) scale(0.78,1)" text-anchor="middle" class="tl">x</text>
<text transform="translate(306.2,228.8) scale(0.78,1)" text-anchor="middle" class="tl">y</text>
<text x="8.1" y="17.1" class="pl">(a)</text>
<text x="287.1" y="17.1" class="pl">(b)</text>
<text x="8.6" y="137.6" class="pl">(c)</text>
<text x="288.1" y="137.6" class="pl">(d)</text>
<g fill="none" stroke="#a0a0a0" stroke-width="0.9"><path d="M196.6,233.1 L228.8,227.3 L258.5,233.9 L224.7,240 Z"/><path d="M228.8,227.3 L228.8,216.2 L258.5,222.3 L258.5,233.9"/></g>
<text x="206" y="247.0" text-anchor="middle" class="sk">a</text>
<text x="249.8" y="247.0" text-anchor="middle" class="sk">a</text>
<text x="266.2" y="234.2" text-anchor="middle" class="sk" style="font-size:14.2px">l</text>
<rect x="32.2" y="262.2" width="478.0" height="15.600000000000023" fill="url(#cb)" stroke="#333" stroke-width="1"/>
<line x1="80.0" y1="262.2" x2="80.0" y2="266.0" stroke="#222" stroke-width="0.9"/>
<line x1="80.0" y1="277.8" x2="80.0" y2="274.0" stroke="#222" stroke-width="0.9"/>
<line x1="127.8" y1="262.2" x2="127.8" y2="266.0" stroke="#222" stroke-width="0.9"/>
<line x1="127.8" y1="277.8" x2="127.8" y2="274.0" stroke="#222" stroke-width="0.9"/>
<line x1="175.6" y1="262.2" x2="175.6" y2="266.0" stroke="#222" stroke-width="0.9"/>
<line x1="175.6" y1="277.8" x2="175.6" y2="274.0" stroke="#222" stroke-width="0.9"/>
<line x1="223.4" y1="262.2" x2="223.4" y2="266.0" stroke="#222" stroke-width="0.9"/>
<line x1="223.4" y1="277.8" x2="223.4" y2="274.0" stroke="#222" stroke-width="0.9"/>
<line x1="271.2" y1="262.2" x2="271.2" y2="266.0" stroke="#222" stroke-width="0.9"/>
<line x1="271.2" y1="277.8" x2="271.2" y2="274.0" stroke="#222" stroke-width="0.9"/>
<line x1="319.0" y1="262.2" x2="319.0" y2="266.0" stroke="#222" stroke-width="0.9"/>
<line x1="319.0" y1="277.8" x2="319.0" y2="274.0" stroke="#222" stroke-width="0.9"/>
<line x1="366.8" y1="262.2" x2="366.8" y2="266.0" stroke="#222" stroke-width="0.9"/>
<line x1="366.8" y1="277.8" x2="366.8" y2="274.0" stroke="#222" stroke-width="0.9"/>
<line x1="414.6" y1="262.2" x2="414.6" y2="266.0" stroke="#222" stroke-width="0.9"/>
<line x1="414.6" y1="277.8" x2="414.6" y2="274.0" stroke="#222" stroke-width="0.9"/>
<line x1="462.4" y1="262.2" x2="462.4" y2="266.0" stroke="#222" stroke-width="0.9"/>
<line x1="462.4" y1="277.8" x2="462.4" y2="274.0" stroke="#222" stroke-width="0.9"/>
<text transform="translate(32.2,293.6) scale(1,1.1)" text-anchor="middle" class="cl">0</text>
<text transform="translate(80.0,293.6) scale(1,1.1)" text-anchor="middle" class="cl">0.1</text>
<text transform="translate(127.8,293.6) scale(1,1.1)" text-anchor="middle" class="cl">0.2</text>
<text transform="translate(175.6,293.6) scale(1,1.1)" text-anchor="middle" class="cl">0.3</text>
<text transform="translate(223.4,293.6) scale(1,1.1)" text-anchor="middle" class="cl">0.4</text>
<text transform="translate(271.2,293.6) scale(1,1.1)" text-anchor="middle" class="cl">0.5</text>
<text transform="translate(319.0,293.6) scale(1,1.1)" text-anchor="middle" class="cl">0.6</text>
<text transform="translate(366.8,293.6) scale(1,1.1)" text-anchor="middle" class="cl">0.7</text>
<text transform="translate(414.6,293.6) scale(1,1.1)" text-anchor="middle" class="cl">0.8</text>
<text transform="translate(462.4,293.6) scale(1,1.1)" text-anchor="middle" class="cl">0.9</text>
<text transform="translate(510.2,293.6) scale(1,1.1)" text-anchor="middle" class="cl">1</text>
<text transform="translate(511.4,271.2) scale(1.12,1.25)" class="cl">&#215;</text>
<text transform="translate(523.6,271.3) scale(0.92,1.22)" class="cl">10</text>
<text transform="translate(541.4,264.0) scale(0.95,1.3)" class="cs">6</text>
</svg>
</body></html>
